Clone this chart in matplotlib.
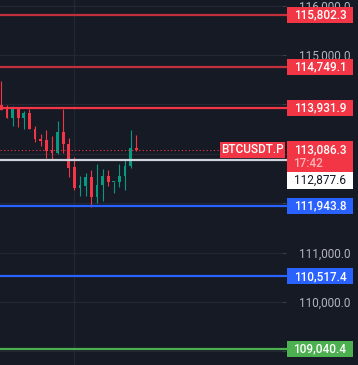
import matplotlib
matplotlib.use("Agg")
import matplotlib.pyplot as plt
import numpy as np
from matplotlib.patches import Rectangle
from matplotlib.transforms import blended_transform_factory

# candle data (oldest -> newest)
opens = [113980, 113926, 113724, 113899, 113724, 113825, 113509, 113307, 113273, 113071,
         113017, 113435, 113206, 112728, 112317, 112351, 112526, 112128, 112378, 112560,
         112431, 112431, 112553, 112755, 113110]
highs = [114465, 113980, 113960, 113913, 113866, 113899, 113556, 113408, 113489, 113354,
         113657, 113899, 113327, 112930, 112546, 112607, 112667, 112802, 112687, 112667,
         112438, 112788, 112869, 113475, 113374]
lows = [113879, 113724, 113556, 113542, 113495, 113502, 113233, 113159, 112916, 112889,
        112997, 113017, 112526, 112263, 112142, 112142, 111926, 112007, 112048, 112351,
        112209, 112331, 112263, 112714, 113060]
closes = [113892, 113724, 113926, 113724, 113825, 113502, 113300, 113260, 113058, 113024,
          113435, 113199, 112714, 112310, 112364, 112526, 112128, 112378, 112560, 112431,
          112438, 112560, 112761, 113110, 113086.3]

# horizontal levels
level_prices = [115802.3, 114749.1, 113931.9, 111943.8, 110517.4, 109040.4]
level_colors = ["#c2313b", "#c2313b", "#f23645", "#2962ff", "#2962ff", "#4caf50"]
label_colors = ["#f23645", "#f23645", "#f23645", "#2962ff", "#2962ff", "#4caf50"]
white_level = 112877.6
last_price = 113086.3
symbol = "BTCUSDT.P"
countdown = "17:42"
y_ticks = [109000, 110000, 111000, 112000, 113000, 114000, 115000, 116000]
shown_ticks = [110000, 111000, 115000, 116000]  # the rest sit under level labels
time_grid = [12.93]

BG = "#161a25"
RED = "#f23645"
GREEN = "#089981"
FONT = "Roboto"

W, H = 358, 365
fig = plt.figure(figsize=(W / 100, H / 100), dpi=100, facecolor=BG)
ax = fig.add_axes([0, 0, 282 / W, 1])
ax.set_facecolor(BG)
for s in ax.spines.values():
    s.set_visible(False)

ax.set_xlim(-0.23, 49.9)
ax.set_ylim(108725, 116113)
px = (116113 - 108725) / H  # price units per pixel

# grid
ax.set_xticks(time_grid)
ax.set_yticks(y_ticks)
ax.grid(True, color="#232733", linewidth=0.9)
ax.tick_params(axis="x", length=0, labelbottom=False)
ax.yaxis.tick_right()
ax.tick_params(axis="y", length=3, color="#3a3e49", pad=9, labelcolor="#b2b5be",
               labelsize=8.5)
ax.set_yticklabels([f"{t:,.1f}" if t in shown_ticks else "" for t in y_ticks],
                   fontfamily=FONT)

# candles
x = np.arange(len(opens))
o, h, l, c = map(np.asarray, (opens, highs, lows, closes))
cols = np.where(c >= o, GREEN, RED)
ax.vlines(x, l, h, colors=cols, linewidth=0.8, zorder=3)
body = np.maximum(np.abs(c - o), px)
ax.bar(x, body, bottom=np.minimum(o, c), width=0.5, color=cols, linewidth=0, zorder=3)

fx = blended_transform_factory(fig.transFigure, ax.transData)
BX0, BX1 = 287 / W, 353 / W
BXC = (BX0 + BX1) / 2

# level lines + labels
for p, lc, bc in zip(level_prices, level_colors, label_colors):
    ax.plot([0, BX0], [p, p], color=lc, linewidth=1.6, transform=fx, clip_on=False, zorder=4)
    ax.add_patch(Rectangle((BX0, p - 8 * px), BX1 - BX0, 16 * px, transform=fx,
                           facecolor=bc, edgecolor="none", clip_on=False, zorder=6))
    ax.text(BXC, p, f"{p:,.1f}", transform=fx, ha="center", va="center", color="white",
            fontsize=8.5, fontfamily=FONT, fontweight="medium", zorder=7, clip_on=False)

# white level line
ax.plot([0, BX0], [white_level, white_level], color="#d1d4dc", linewidth=1.6,
        transform=fx, clip_on=False, zorder=4)

# last price dotted line
ax.plot([0, 220 / W], [last_price, last_price], color=RED, linewidth=0.8,
        linestyle=(0, (1, 2.2)), transform=fx, clip_on=False, zorder=4)

# symbol label
ax.add_patch(Rectangle((220 / W, last_price - 8 * px), 65 / W, 16 * px, transform=fx,
                       facecolor=RED, edgecolor="none", clip_on=False, zorder=6))
ax.text(252.5 / W, last_price, symbol, transform=fx, ha="center", va="center",
        color="white", fontsize=8.5, fontfamily=FONT, fontweight="medium", zorder=7)

# last price + countdown box
top = last_price + 9 * px
ax.add_patch(Rectangle((BX0, top - 31 * px), BX1 - BX0, 31 * px, transform=fx,
                       facecolor=RED, edgecolor="none", clip_on=False, zorder=6))
ax.text(BXC, last_price, f"{last_price:,.1f}", transform=fx, ha="center", va="center",
        color="white", fontsize=8.5, fontfamily=FONT, fontweight="medium", zorder=7,
        clip_on=False)
ax.text(BX0 + 6 / W, last_price - 14 * px, countdown, transform=fx, ha="left",
        va="center", color="#fbb3b8", fontsize=8.5, fontfamily=FONT, fontweight="medium",
        zorder=7, clip_on=False)

# white level box, pushed below the last price box
wtop = top - 31 * px
ax.add_patch(Rectangle((BX0, wtop - 17 * px), BX1 - BX0, 17 * px, transform=fx,
                       facecolor="white", edgecolor="none", clip_on=False, zorder=6))
ax.text(BXC, wtop - 8.5 * px, f"{white_level:,.1f}", transform=fx, ha="center",
        va="center", color="#131722", fontsize=8.5, fontfamily=FONT, zorder=7,
        clip_on=False)

fig.savefig("out.png", dpi=100, facecolor=BG)
